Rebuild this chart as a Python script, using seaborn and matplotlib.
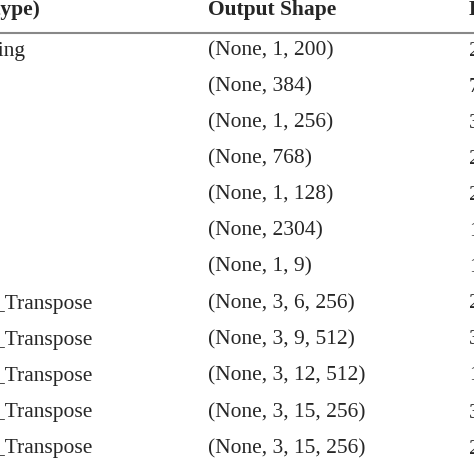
import matplotlib
matplotlib.use("Agg")
import matplotlib.pyplot as plt
import seaborn as sns

sns.set_theme(style="white")
plt.rcParams["font.family"] = ["Liberation Serif", "DejaVu Serif"]

# Tabla (recortada) de resumen del modelo
headers = ["Layer (type)", "Output Shape", "Param #"]
layers = ["Embedding", "Dense", "Reshape", "Dense", "Reshape", "Dense", "Reshape",
          "Conv2D_Transpose", "Conv2D_Transpose", "Conv2D_Transpose",
          "Conv2D_Transpose", "Conv2D_Transpose"]
layer_show = [True, False, False, False, False, False, False, True, True, True, True, True]
shapes = ["(None, 1, 200)", "(None, 384)", "(None, 1, 256)", "(None, 768)",
          "(None, 1, 128)", "(None, 2304)", "(None, 1, 9)", "(None, 3, 6, 256)",
          "(None, 3, 9, 512)", "(None, 3, 12, 512)", "(None, 3, 15, 256)",
          "(None, 3, 15, 256)"]
params = ["2", "7", "3", "2", "2", "1", "1", "2", "3", "1", "3", "2"]

fig = plt.figure(figsize=(4.74, 4.74), dpi=100)
ax = fig.add_axes([0, 0, 1, 1])
ax.set_xlim(0, 474)
ax.set_ylim(474, 0)
ax.axis("off")

fs = 15.5
row_y = [51, 87, 123, 159, 195, 231, 267, 304, 340, 376, 413, 449]

# encabezado
ax.text(40, 10, headers[0], ha="right", va="center", fontsize=fs, fontweight="bold")
ax.text(208, 10, headers[1], ha="left", va="center", fontsize=fs, fontweight="bold")
ax.text(469, 10, headers[2], ha="left", va="center", fontsize=fs, fontweight="bold")
ax.plot([0, 474], [33, 33], color="#888888", lw=1.5)

for i, y in enumerate(row_y):
    if layer_show[i]:
        name = layers[i]
        x_end = 25 if i == 0 else 93
        ax.text(x_end, y, name, ha="right", va="center", fontsize=fs)
    ax.text(208, y, shapes[i], ha="left", va="center", fontsize=fs)
    ax.text(469, y, params[i] + "00", ha="left", va="center", fontsize=fs)

fig.savefig("out.png", dpi=100)
